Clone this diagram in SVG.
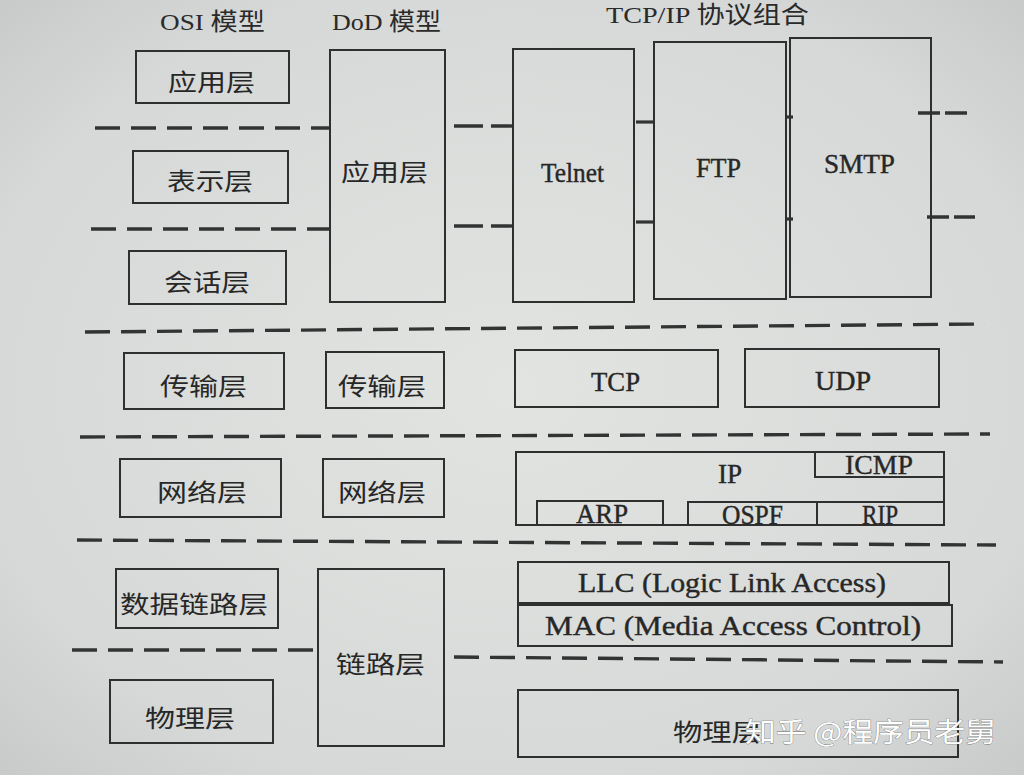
<svg xmlns="http://www.w3.org/2000/svg" width="1024" height="775" viewBox="0 0 1024 775">
<defs>
<radialGradient id="paper" cx="0.5" cy="0.5" r="0.75">
<stop offset="0" stop-color="#e2e4e2"/>
<stop offset="0.7" stop-color="#d6d9d7"/>
<stop offset="1" stop-color="#c4c7c6"/>
</radialGradient>
<style>
.box{fill:none;stroke:#2f2f2f;stroke-width:2}
.dash{fill:none;stroke:#333;stroke-width:3.4;stroke-dasharray:25 11}
.seg{fill:none;stroke:#333;stroke-width:3.2}
.cn{font-family:"Noto Sans CJK SC","Noto Sans CJK TC",sans-serif;font-size:24px;fill:#272727;dominant-baseline:central;text-anchor:start}
.en{font-family:"Liberation Serif","Noto Sans CJK SC",serif;font-size:27px;fill:#272727;stroke:#272727;stroke-width:0.4;dominant-baseline:central;text-anchor:start}
.hd{font-family:"Liberation Serif","Noto Sans CJK SC",serif;font-size:24px;fill:#2a2a2a;dominant-baseline:central}
.wm{font-family:"Noto Sans CJK SC",sans-serif;font-size:27px;fill:#ffffff;stroke:#6a6a6a;stroke-width:0.6;paint-order:stroke;dominant-baseline:central}
</style>
</defs>
<rect x="0" y="0" width="1024" height="775" fill="url(#paper)"/>

<g id="headers">
<text class="hd" x="160" y="22" textLength="105" lengthAdjust="spacingAndGlyphs">OSI 模型</text>
<text class="hd" x="332" y="22" textLength="109" lengthAdjust="spacingAndGlyphs">DoD 模型</text>
<text class="hd" x="606" y="15" textLength="203" lengthAdjust="spacingAndGlyphs">TCP/IP 协议组合</text>
</g>

<g id="connectors">
<line class="dash" x1="95" y1="128" x2="330" y2="128"/>
<line class="dash" x1="91" y1="229" x2="330" y2="229"/>
<line class="dash" x1="454" y1="126" x2="513" y2="126" style="stroke-dasharray:29 8"/>
<line class="dash" x1="454" y1="226" x2="513" y2="226" style="stroke-dasharray:29 8"/>
<line class="seg" x1="636" y1="122" x2="655" y2="122"/>
<line class="seg" x1="636" y1="222" x2="655" y2="222"/>
<line class="seg" x1="787" y1="117" x2="793" y2="117"/>
<line class="seg" x1="787" y1="219" x2="793" y2="219"/>
<line class="dash" x1="918" y1="113" x2="967" y2="113" style="stroke-dasharray:22 5"/>
<line class="dash" x1="927" y1="217" x2="975" y2="217" style="stroke-dasharray:22 5"/>
<line class="dash" x1="85" y1="332" x2="985" y2="324"/>
<line class="dash" x1="80" y1="437" x2="990" y2="434"/>
<line class="dash" x1="77" y1="540" x2="996" y2="545"/>
<line class="dash" x1="72" y1="650" x2="318" y2="650"/>
<line class="dash" x1="454" y1="657" x2="1003" y2="662"/>
</g>

<g id="osi-app"><rect class="box" x="136" y="51" width="153" height="52"/><text class="cn" x="168" y="80" textLength="87" lengthAdjust="spacingAndGlyphs">应用层</text></g>
<g id="osi-pres"><rect class="box" x="133" y="151" width="155" height="52"/><text class="cn" x="167" y="179" textLength="86" lengthAdjust="spacingAndGlyphs">表示层</text></g>
<g id="osi-sess"><rect class="box" x="129" y="251" width="157" height="53"/><text class="cn" x="164" y="280" textLength="86" lengthAdjust="spacingAndGlyphs">会话层</text></g>
<g id="osi-trans"><rect class="box" x="124" y="353" width="160" height="56"/><text class="cn" x="160" y="384" textLength="87" lengthAdjust="spacingAndGlyphs">传输层</text></g>
<g id="osi-net"><rect class="box" x="120" y="459" width="161" height="58"/><text class="cn" x="157" y="490" textLength="90" lengthAdjust="spacingAndGlyphs">网络层</text></g>
<g id="osi-dl"><rect class="box" x="116" y="569" width="162" height="59"/><text class="cn" x="120" y="602" textLength="148" lengthAdjust="spacingAndGlyphs">数据链路层</text></g>
<g id="osi-phy"><rect class="box" x="110" y="680" width="163" height="63"/><text class="cn" x="145" y="716" textLength="90" lengthAdjust="spacingAndGlyphs">物理层</text></g>

<g id="dod-app"><rect class="box" x="330" y="50" width="115" height="252"/><text class="cn" x="341" y="170" textLength="87" lengthAdjust="spacingAndGlyphs">应用层</text></g>
<g id="dod-trans"><rect class="box" x="326" y="352" width="118" height="56"/><text class="cn" x="338" y="384" textLength="88" lengthAdjust="spacingAndGlyphs">传输层</text></g>
<g id="dod-net"><rect class="box" x="323" y="459" width="121" height="58"/><text class="cn" x="338" y="490" textLength="88" lengthAdjust="spacingAndGlyphs">网络层</text></g>
<g id="dod-link"><rect class="box" x="318" y="569" width="126" height="177"/><text class="cn" x="336" y="662" textLength="89" lengthAdjust="spacingAndGlyphs">链路层</text></g>

<g id="telnet"><rect class="box" x="513" y="49" width="121" height="253"/><text class="en" x="541" y="173" textLength="63" lengthAdjust="spacingAndGlyphs">Telnet</text></g>
<g id="ftp"><rect class="box" x="654" y="42" width="132" height="257"/><text class="en" x="696" y="168" textLength="45" lengthAdjust="spacingAndGlyphs">FTP</text></g>
<g id="smtp"><rect class="box" x="790" y="38" width="141" height="259"/><text class="en" x="824" y="164" textLength="71" lengthAdjust="spacingAndGlyphs">SMTP</text></g>

<g id="tcp"><rect class="box" x="515" y="350" width="203" height="57"/><text class="en" x="591" y="382" textLength="49" lengthAdjust="spacingAndGlyphs">TCP</text></g>
<g id="udp"><rect class="box" x="745" y="349" width="194" height="58"/><text class="en" x="815" y="381" textLength="56" lengthAdjust="spacingAndGlyphs">UDP</text></g>

<g id="ip"><rect class="box" x="516" y="452" width="428" height="73"/><text class="en" x="718" y="474" textLength="24" lengthAdjust="spacingAndGlyphs">IP</text></g>
<g id="icmp"><rect class="box" x="815" y="452" width="129" height="25"/><text class="en" x="845" y="465" font-size="24" textLength="68" lengthAdjust="spacingAndGlyphs">ICMP</text></g>
<g id="arp"><rect class="box" x="537" y="501" width="126" height="24"/><text class="en" x="576" y="514" font-size="24" textLength="52" lengthAdjust="spacingAndGlyphs">ARP</text></g>
<g id="ospf"><rect class="box" x="688" y="502" width="129" height="23"/><text class="en" x="722" y="515" font-size="24" textLength="61" lengthAdjust="spacingAndGlyphs">OSPF</text></g>
<g id="rip"><rect class="box" x="817" y="502" width="127" height="23"/><text class="en" x="862" y="515" font-size="24" textLength="36" lengthAdjust="spacingAndGlyphs">RIP</text></g>

<g id="llc"><rect class="box" x="518" y="562" width="431" height="41"/><text class="en" x="578" y="583" textLength="308" lengthAdjust="spacingAndGlyphs">LLC (Logic Link Access)</text></g>
<g id="mac"><rect class="box" x="518" y="605" width="434" height="41"/><text class="en" x="545" y="626" textLength="376" lengthAdjust="spacingAndGlyphs">MAC (Media Access Control)</text></g>

<g id="phy"><rect class="box" x="518" y="690" width="440" height="67"/><text class="cn" x="673" y="730" textLength="88" lengthAdjust="spacingAndGlyphs">物理层</text></g>

<g id="watermark"><text class="wm" x="745" y="730" textLength="251" lengthAdjust="spacingAndGlyphs">知乎 @程序员老舅</text></g>
</svg>
